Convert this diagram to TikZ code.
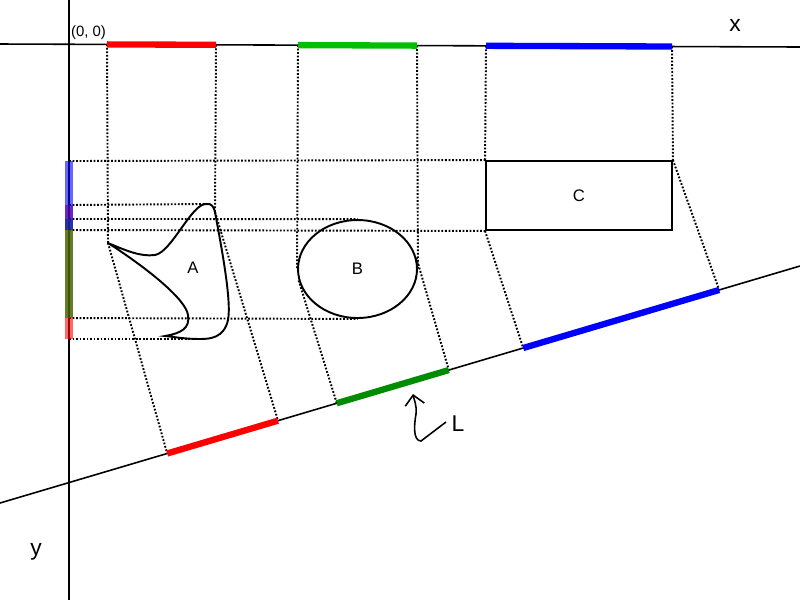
\documentclass[tikz,border=0pt]{standalone}
\usepackage{fontspec}
\setmainfont{Liberation Sans}
\usetikzlibrary{positioning,arrows.meta,calc,shapes.geometric}

\definecolor{segred}{RGB}{255,0,0}
\definecolor{seggreen}{RGB}{0,190,0}
\definecolor{segdkgreen}{RGB}{0,140,0}
\definecolor{segblue}{RGB}{0,0,255}

\begin{document}
\begin{tikzpicture}[
  x=0.02cm, y=-0.02cm,
  axis/.style={line width=0.9pt, black},
  proj/.style={line width=1.1pt, dash pattern=on 1pt off 1pt, black},
  obj/.style={draw, line width=1.1pt, inner sep=0pt, font=\fontsize{9.5}{11}\selectfont},
  tag/.style={font=\fontsize{9.5}{11}\selectfont, inner sep=0pt},
  seg/.style={line width=3.6pt},
  yseg/.style={line width=4.5pt, opacity=0.6},
  lab/.style={font=\fontsize{13}{15}\selectfont, inner sep=0pt},
  pointer/.style={-{Straight Barb[length=5.5pt,width=11pt]}, line width=0.9pt}
]

  \useasboundingbox (0,0) rectangle (800,600);

  % Axes and the line L
  \coordinate (xL) at (0,44);
  \coordinate (xR) at (800,47);
  \coordinate (yT) at (69,0);
  \coordinate (yB) at (69,600);
  \coordinate (L0) at (0,503);
  \coordinate (L1) at (800,266);
  \coordinate (O)  at (69,44.5);

  % Objects A, B, C
  \node[obj, rectangle, minimum width=3.72cm, minimum height=1.38cm] (C) at (579,195.5) {C};
  \node[obj, ellipse, minimum width=2.38cm, minimum height=1.96cm]   (B) at (357.5,269) {B};
  \coordinate (Atip)   at (108,243);
  \coordinate (Atop)   at (207,204);
  \coordinate (Aright) at (215,212);
  \coordinate (Abot)   at (200,339);
  \draw[line width=1.1pt] (Atip)
    .. controls (125,250) and (140,257) .. (155,255)
    .. controls (172,252) and (192,202) .. (Atop)
    .. controls (211,203) and (214,207) .. (Aright)
    .. controls (220,240) and (232,300) .. (228,320)
    .. controls (224,338) and (210,339) .. (Abot)
    .. controls (185,339) and (175,337) .. (165,336)
    .. controls (182,333) and (190,328) .. (188,315)
    .. controls (186,300) and (150,270) .. cycle;
  \node[tag] (A) at (193,268) {A};

  % Segments on the x axis
  \coordinate (xRa) at (107,44.4);
  \coordinate (xRb) at (216,44.8);
  \coordinate (xGa) at (298,45.1);
  \coordinate (xGb) at (417,45.6);
  \coordinate (xBa) at (486,45.8);
  \coordinate (xBb) at (672,46.5);

  % Segments on the y axis
  \coordinate (yBa) at (69,161);
  \coordinate (yRa) at (69,205);
  \coordinate (yGa) at (69,219);
  \coordinate (yBb) at (69,230);
  \coordinate (yGb) at (69,318);
  \coordinate (yRb) at (69,339);

  % Segments on L
  \coordinate (lRa) at ($(L0)!0.209!(L1)$);
  \coordinate (lRb) at ($(L0)!0.3475!(L1)$);
  \coordinate (lGa) at ($(L0)!0.421!(L1)$);
  \coordinate (lGb) at ($(L0)!0.561!(L1)$);
  \coordinate (lBa) at ($(L0)!0.654!(L1)$);
  \coordinate (lBb) at ($(L0)!0.899!(L1)$);

  % Projection lines onto x
  \draw[proj] (xRa) -- (Atip);
  \draw[proj] (xRb) -- (Aright);
  \draw[proj] (xGa) -- (B.west);
  \draw[proj] (xGb) -- (B.east);
  \draw[proj] (xBa) -- (C.north west);
  \draw[proj] (xBb) -- (C.north east);

  % Projection lines onto y
  \draw[proj] (yBa) -- (C.north west);
  \draw[proj] (yRa) -- (Atop);
  \draw[proj] (yGa) -- (B.north);
  \draw[proj] (yBb) -- (C.south west);
  \draw[proj] (yGb) -- (B.south);
  \draw[proj] (yRb) -- (Abot);

  % Projection lines onto L
  \draw[proj] (Atip) -- (lRa);
  \draw[proj] (Aright) -- (lRb);
  \draw[proj] (B.191) -- (lGa);
  \draw[proj] (B.11) -- (lGb);
  \draw[proj] (C.south west) -- (lBa);
  \draw[proj] (C.north east) -- (lBb);

  % Axes
  \draw[axis] (xL) -- (xR);
  \draw[axis] (yT) -- (yB);
  \draw[axis] (L0) -- (L1);

  % Coloured segments
  \draw[seg, segred]   (xRa) -- (xRb);
  \draw[seg, seggreen] (xGa) -- (xGb);
  \draw[seg, segblue]  (xBa) -- (xBb);
  \draw[yseg, segred]     (yRa) -- (yRb);
  \draw[yseg, segdkgreen] (yGa) -- (yGb);
  \draw[yseg, segblue]    (yBa) -- (yBb);
  \draw[seg, segred]      (lRa) -- (lRb);
  \draw[seg, segdkgreen]  (lGa) -- (lGb);
  \draw[seg, segblue]     (lBa) -- (lBb);

  % Labels
  \node[lab] (xlab) at (735,25) {x};
  \node[lab] (ylab) at (36,552) {y};
  \node[font=\fontsize{8.5}{10}\selectfont, inner sep=1pt, above right=1.5pt and 0pt of O] (orig) {(0, 0)};
  \node[lab] (Llab) at (458,424) {L};

  % Pointer to L
  \coordinate (arrS) at (446,422);
  \coordinate (arrE) at (413,394);
  \draw[pointer] (arrS) -- (421,441)
    .. controls (413,441) and (414,425) .. (416,414)
    .. controls (417,405) and (414,400) .. (arrE);

\end{tikzpicture}
\end{document}
